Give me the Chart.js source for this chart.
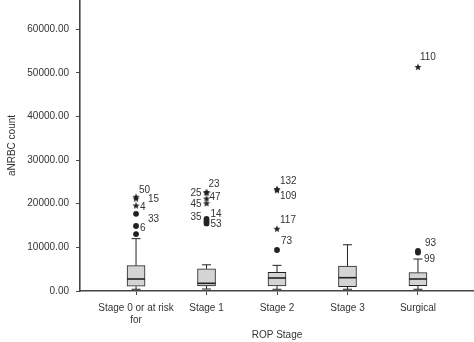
<!DOCTYPE html>
<html>
<head>
<meta charset="utf-8">
<script src="https://cdn.jsdelivr.net/npm/chart.js@4.4.1/dist/chart.umd.min.js"></script>
<style>
  body { margin: 0; background: #fff; }
  canvas { display: block; }
</style>
</head>
<body>
<canvas id="chart" width="474" height="342"></canvas>
<script>
// Box plot data
const categories = [['Stage 0 or at risk', 'for'], 'Stage 1', 'Stage 2', 'Stage 3', 'Surgical'];
const whiskerLow = [400, 450, 400, 400, 400];
const q1 = [1080, 1150, 1150, 990, 1220];
const median = [2750, 1760, 2980, 3050, 2750];
const q3 = [5800, 5100, 4280, 5725, 4200];
const whiskerHigh = [12000, 6000, 5880, 10600, 7330];

// Outliers (circles) and extreme values (stars)
const circleStage = [0, 0, 0, 1, 1, 1, 2, 4, 4];
const circleValue = [17700, 14900, 13050, 16500, 16000, 15500, 9400, 9200, 8800];
const circleId = ['33', '6', '', '14', '35', '53', '73', '93', '99'];

const starStage = [0, 0, 0, 1, 1, 1, 1, 2, 2, 2, 4];
const starValue = [21600, 21200, 19600, 22700, 22500, 21200, 20100, 23400, 23100, 14270, 51370];
const starId = ['50', '15', '4', '23', '25', '47', '45', '132', '109', '117', '110'];

const yTicks = [0, 10000, 20000, 30000, 40000, 50000, 60000];

// label placement next to each point: [dx, dy, align]
const labelOffsets = {
    '50': [3, -7, 'left'], '15': [12, 1, 'left'], '4': [4, 2, 'left'],
    '33': [12, 5, 'left'], '6': [4, 2, 'left'],
    '23': [2, -8, 'left'], '25': [-5, 0, 'right'], '47': [3, -1, 'left'], '45': [-5, 1, 'right'],
    '14': [4, -5, 'left'], '35': [-5, -4, 'right'], '53': [4, 1, 'left'],
    '132': [3, -8, 'left'], '109': [3, 6, 'left'], '117': [3, -8, 'left'], '73': [4, -9, 'left'],
    '110': [2, -10, 'left'], '93': [7, -8, 'left'], '99': [6, 7, 'left']
};

const inkColor = '#222';
const textColor = '#333';
const axisColor = '#444';
const fontFamily = '"Liberation Sans", Arial, sans-serif';

// small filled star used as point style
function makeStar() {
    const c = document.createElement('canvas');
    c.width = 8;
    c.height = 8;
    const g = c.getContext('2d');
    g.fillStyle = inkColor;
    g.beginPath();
    for (let i = 0; i < 10; i++) {
        const r = i % 2 === 0 ? 3.8 : 1.6;
        const a = -Math.PI / 2 + i * Math.PI / 5;
        const px = 4 + r * Math.cos(a);
        const py = 4.3 + r * Math.sin(a);
        if (i === 0) g.moveTo(px, py); else g.lineTo(px, py);
    }
    g.closePath();
    g.fill();
    return c;
}
const starImg = makeStar();

// whiskers, medians and point labels
const boxExtras = {
    id: 'boxExtras',
    afterDatasetsDraw(chart) {
        const ctx = chart.ctx;
        const xs = chart.scales.x;
        const ys = chart.scales.y;
        ctx.save();
        ctx.strokeStyle = inkColor;
        categories.forEach((c, i) => {
            const cx = xs.getPixelForValue(i);
            const lo = ys.getPixelForValue(whiskerLow[i]);
            const b = ys.getPixelForValue(q1[i]);
            const t = ys.getPixelForValue(q3[i]);
            const hi = ys.getPixelForValue(whiskerHigh[i]);
            ctx.lineWidth = 1;
            ctx.beginPath();
            ctx.moveTo(cx, b); ctx.lineTo(cx, lo);
            ctx.moveTo(cx, t); ctx.lineTo(cx, hi);
            ctx.moveTo(cx - 4.5, lo); ctx.lineTo(cx + 4.5, lo);
            ctx.moveTo(cx - 4.5, hi); ctx.lineTo(cx + 4.5, hi);
            ctx.stroke();
            const m = ys.getPixelForValue(median[i]);
            ctx.lineWidth = 1.6;
            ctx.beginPath();
            ctx.moveTo(cx - 9, m); ctx.lineTo(cx + 9, m);
            ctx.stroke();
        });

        ctx.fillStyle = textColor;
        ctx.font = '10px ' + fontFamily;
        ctx.textBaseline = 'middle';
        const drawLabel = (stage, value, id) => {
            if (!id) return;
            const off = labelOffsets[id] || [5, 0, 'left'];
            ctx.textAlign = off[2];
            ctx.fillText(id, xs.getPixelForValue(stage) + off[0], ys.getPixelForValue(value) + off[1]);
        };
        circleId.forEach((id, i) => drawLabel(circleStage[i], circleValue[i], id));
        starId.forEach((id, i) => drawLabel(starStage[i], starValue[i], id));
        ctx.restore();
    }
};

const ctx = document.getElementById('chart').getContext('2d');
const chart = new Chart(ctx, {
    type: 'bar',
    data: {
        datasets: [
            {
                type: 'scatter',
                data: circleValue.map((v, i) => ({ x: circleStage[i], y: v })),
                pointStyle: 'circle',
                pointRadius: 2.9,
                backgroundColor: inkColor,
                borderWidth: 0
            },
            {
                type: 'scatter',
                data: starValue.map((v, i) => ({ x: starStage[i], y: v })),
                pointStyle: starImg,
                pointRadius: 4
            },
            {
                type: 'bar',
                data: categories.map((c, i) => ({ x: i, y: [q1[i], q3[i]] })),
                backgroundColor: '#d4d4d4',
                borderColor: inkColor,
                borderWidth: 1,
                borderSkipped: false,
                barThickness: 18
            }
        ]
    },
    options: {
        responsive: false,
        animation: false,
        layout: { padding: 0, autoPadding: false },
        plugins: {
            legend: { display: false },
            tooltip: { enabled: false }
        },
        scales: {
            x: {
                type: 'linear',
                offset: false,
                min: -0.795,
                max: 4.795,
                afterBuildTicks: (scale) => {
                    scale.ticks = categories.map((c, i) => ({ value: i }));
                },
                afterFit: (scale) => {
                    scale.height = 51;
                    scale.paddingLeft = 0;
                    scale.paddingRight = 0;
                },
                ticks: {
                    callback: (v) => categories[v],
                    autoSkip: false,
                    maxRotation: 0,
                    padding: 7,
                    color: textColor,
                    font: { family: fontFamily, size: 10 }
                },
                grid: { offset: false, drawOnChartArea: false, tickLength: 4, color: axisColor },
                border: { color: axisColor, width: 1.6 },
                title: {
                    display: true,
                    text: 'ROP Stage',
                    color: textColor,
                    font: { family: fontFamily, size: 10 },
                    padding: { top: 0, bottom: 1 }
                }
            },
            y: {
                min: 0,
                max: 66700,
                afterBuildTicks: (scale) => {
                    scale.ticks = yTicks.map(v => ({ value: v }));
                },
                afterFit: (scale) => {
                    scale.width = 80;
                    scale.paddingTop = 0;
                    scale.paddingBottom = 0;
                },
                ticks: {
                    callback: (v) => v.toFixed(2),
                    padding: 7,
                    color: textColor,
                    font: { family: fontFamily, size: 10 }
                },
                grid: { drawOnChartArea: false, tickLength: 4, color: axisColor },
                border: { color: axisColor, width: 1.6 },
                title: {
                    display: true,
                    text: 'aNRBC count',
                    color: textColor,
                    font: { family: fontFamily, size: 10 },
                    padding: { top: 6, bottom: 0 }
                }
            }
        }
    },
    plugins: [boxExtras]
});
</script>
</body>
</html>
